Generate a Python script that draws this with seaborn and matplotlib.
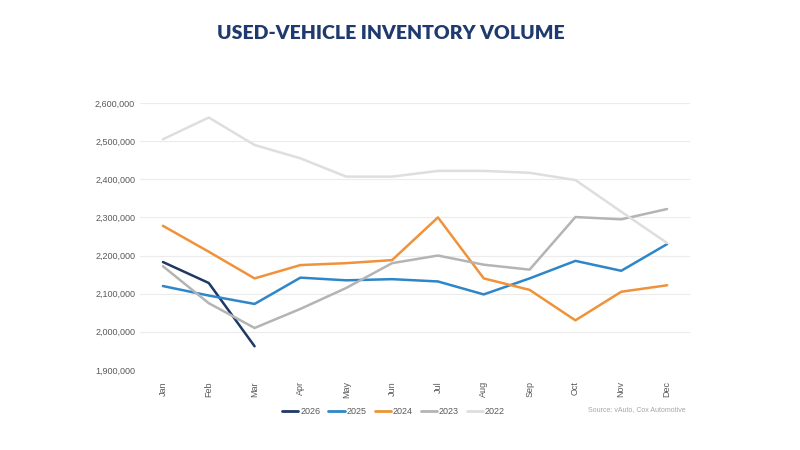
import matplotlib.pyplot as plt
import matplotlib.ticker as mticker
import pandas as pd
import seaborn as sns

meses = ["Jan", "Feb", "Mar", "Apr", "May", "Jun", "Jul", "Aug", "Sep", "Oct", "Nov", "Dec"]

v2026 = [2183000, 2128000, 1962000]
v2025 = [2120000, 2095000, 2073000, 2142000, 2135000, 2138000, 2132000, 2098000, 2140000, 2186000, 2160000, 2230000]
v2024 = [2278000, 2210000, 2140000, 2175000, 2180000, 2188000, 2300000, 2140000, 2110000, 2030000, 2105000, 2122000]
v2023 = [2172000, 2075000, 2010000, 2060000, 2115000, 2180000, 2200000, 2176000, 2163000, 2301000, 2295000, 2322000]
v2022 = [2505000, 2562000, 2490000, 2455000, 2407000, 2407000, 2422000, 2422000, 2417000, 2398000, 2315000, 2233000]

series = {"2026": v2026, "2025": v2025, "2024": v2024, "2023": v2023, "2022": v2022}
colores = {"2026": "#1f3864", "2025": "#2e86c8", "2024": "#f0923a", "2023": "#b4b4b4", "2022": "#dedede"}

filas = []
for anio, vals in series.items():
    for i, v in enumerate(vals):
        filas.append({"Mes": i, "Año": anio, "Inventario": v})
df = pd.DataFrame(filas)

sns.set_style("white")
plt.rcParams["font.family"] = ["Liberation Sans", "DejaVu Sans"]

fig = plt.figure(figsize=(8, 4.5), dpi=100)
ax = fig.add_axes([0.175, 0.178, 0.6875, 0.593])

sns.lineplot(
    data=df,
    x="Mes",
    y="Inventario",
    hue="Año",
    hue_order=list(series.keys()),
    palette=colores,
    linewidth=1.8,
    ax=ax,
    legend=False,
)

ax.set_xlim(-0.5, 11.5)
ax.set_ylim(1900000, 2600000)
ax.set_yticks(range(1900000, 2600001, 100000))
ax.yaxis.set_major_formatter(mticker.FuncFormatter(lambda v, p: f"{int(v):,}"))
ax.set_xticks(range(12))
ax.set_xticklabels(meses, rotation=90)
ax.tick_params(axis="both", labelsize=6.5, colors="#595959", length=0)
ax.tick_params(axis="x", pad=8)
ax.grid(axis="y", color="#ececec", linewidth=0.8)
ax.set_axisbelow(True)
for s in ax.spines.values():
    s.set_visible(False)
ax.set_xlabel("")
ax.set_ylabel("")

# leyenda manual abajo
handles = [plt.Line2D([0], [0], color=colores[k], linewidth=2) for k in series]
fig.legend(
    handles,
    list(series.keys()),
    loc="center",
    bbox_to_anchor=(0.492, 0.085),
    ncol=5,
    frameon=False,
    fontsize=6.5,
    handlelength=1.8,
    handletextpad=0.2,
    columnspacing=0.9,
    labelcolor="#595959",
)

fig.text(0.8575, 0.089, "Source: vAuto, Cox Automotive", ha="right", va="center",
         fontsize=5, color="#a6a6a6")

fig.text(0.489, 0.925, "USED-VEHICLE INVENTORY VOLUME", ha="center", va="center",
         fontsize=14, fontweight="heavy", color="#1f3a6e",
         family=["Lato", "DejaVu Sans"])

fig.savefig("out.png", dpi=100)
